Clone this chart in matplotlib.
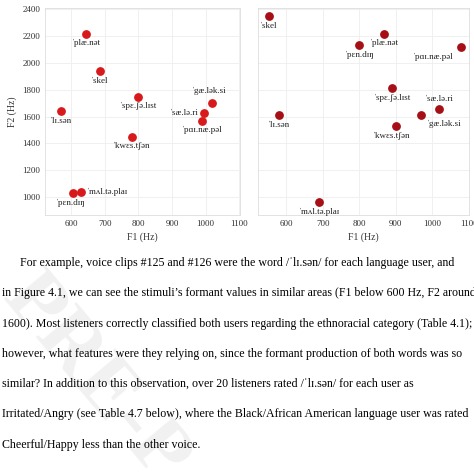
import matplotlib
matplotlib.use("Agg")
import matplotlib.pyplot as plt

words_l = ["ˈplæ.nət", "ˈskel", "ˈlɪ.sən", "ˈspɛ.ʃə.lɪst", "ˈkwɛs.tʃən", "ˈsæ.lə.ri", "ˈpɑɪ.næ.pəl", "ˈgæ.lək.si", "ˈpɛn.dɪŋ", "ˈmʌl.tə.plaɪ"]
f1_l = [645, 685, 570, 800, 780, 995, 990, 1020, 605, 630]
f2_l = [2220, 1940, 1640, 1750, 1450, 1630, 1570, 1700, 1030, 1040]
words_r = ["ˈskel", "ˈplæ.nət", "ˈpɛn.dɪŋ", "ˈpɑɪ.næ.pəl", "ˈspɛ.ʃə.lɪst", "ˈsæ.lə.ri", "ˈgæ.lək.si", "ˈkwɛs.tʃən", "ˈlɪ.sən", "ˈmʌl.tə.plaɪ"]
f1_r = [552, 868, 800, 1080, 890, 1020, 970, 900, 580, 690]
f2_r = [2350, 2220, 2135, 2120, 1810, 1660, 1610, 1530, 1610, 960]
xticks = [600, 700, 800, 900, 1000, 1100]
yticks = [1000, 1200, 1400, 1600, 1800, 2000, 2200, 2400]

paragraph = [
    "      For example, voice clips #125 and #126 were the word /ˈlɪ.sən/ for each language user, and",
    "in Figure 4.1, we can see the stimuli’s formant values in similar areas (F1 below 600 Hz, F2 around",
    "1600). Most listeners correctly classified both users regarding the ethnoracial category (Table 4.1);",
    "however, what features were they relying on, since the formant production of both words was so",
    "similar? In addition to this observation, over 20 listeners rated /ˈlɪ.sən/ for each user as",
    "Irritated/Angry (see Table 4.7 below), where the Black/African American language user was rated",
    "Cheerful/Happy less than the other voice.",
    "",
    "      The Black/African American woman produced /ˈgæ.lək.si/ at a higher frequency than the",
]

# label placement (offset points, ha, va) per point index
place_l = {5: (-4, 0, 'right', 'center'), 7: (-2, 6, 'center', 'bottom'),
           8: (-2, -4, 'center', 'top'), 9: (4, 0, 'left', 'center')}
place_r = {3: (-6, -4, 'right', 'top'), 5: (0, 4, 'center', 'bottom'),
           6: (4, -3, 'left', 'top'), 7: (-3, -4, 'center', 'top')}

plt.rcParams['font.family'] = ['Liberation Serif', 'DejaVu Serif']
fig = plt.figure(figsize=(4.74, 4.74), dpi=100)
fig.patch.set_facecolor('white')

def panel(rect, x, y, words, color, ylabels, place):
    ax = fig.add_axes(rect)
    ax.scatter(x, y, s=28, color=color, zorder=3)
    for i, (xi, yi, w) in enumerate(zip(x, y, words)):
        dx, dy, ha, va = place.get(i, (0, -4, 'center', 'top'))
        ax.annotate(w, (xi, yi), xytext=(dx, dy), textcoords='offset points',
                    ha=ha, va=va, fontsize=6.5, color='#222222')
    ax.set_xlim(522, 1102)
    ax.set_ylim(865, 2410)
    ax.set_xticks(xticks)
    ax.set_yticks(yticks)
    ax.tick_params(labelsize=6.5, length=0, colors='#333333')
    if not ylabels:
        ax.set_yticklabels([])
    else:
        ax.set_ylabel("F2 (Hz)", fontsize=7, color='#333333')
    ax.set_xlabel("F1 (Hz)", fontsize=7, color='#333333', labelpad=3)
    ax.grid(True, color='#eeeeee', lw=0.6)
    for s in ax.spines.values():
        s.set_color('#dddddd'); s.set_linewidth(0.6)
    return ax

panel([0.095, 0.546, 0.411, 0.437], f1_l, f2_l, words_l, '#d7191c', True, place_l)
panel([0.544, 0.546, 0.446, 0.437], f1_r, f2_r, words_r, '#a50f15', False, place_r)

y0 = 1 - 263/474
for i, line in enumerate(paragraph):
    fig.text(0.005, y0 - i*30.3/474, line, fontsize=8.6, va='center', ha='left', color='black')

fig.text(0.2, 0.2, "PRE-P", fontsize=60, color='#000000', alpha=0.06, rotation=-50, ha='center', va='center', fontweight='bold')

fig.savefig("out.png", dpi=100)
